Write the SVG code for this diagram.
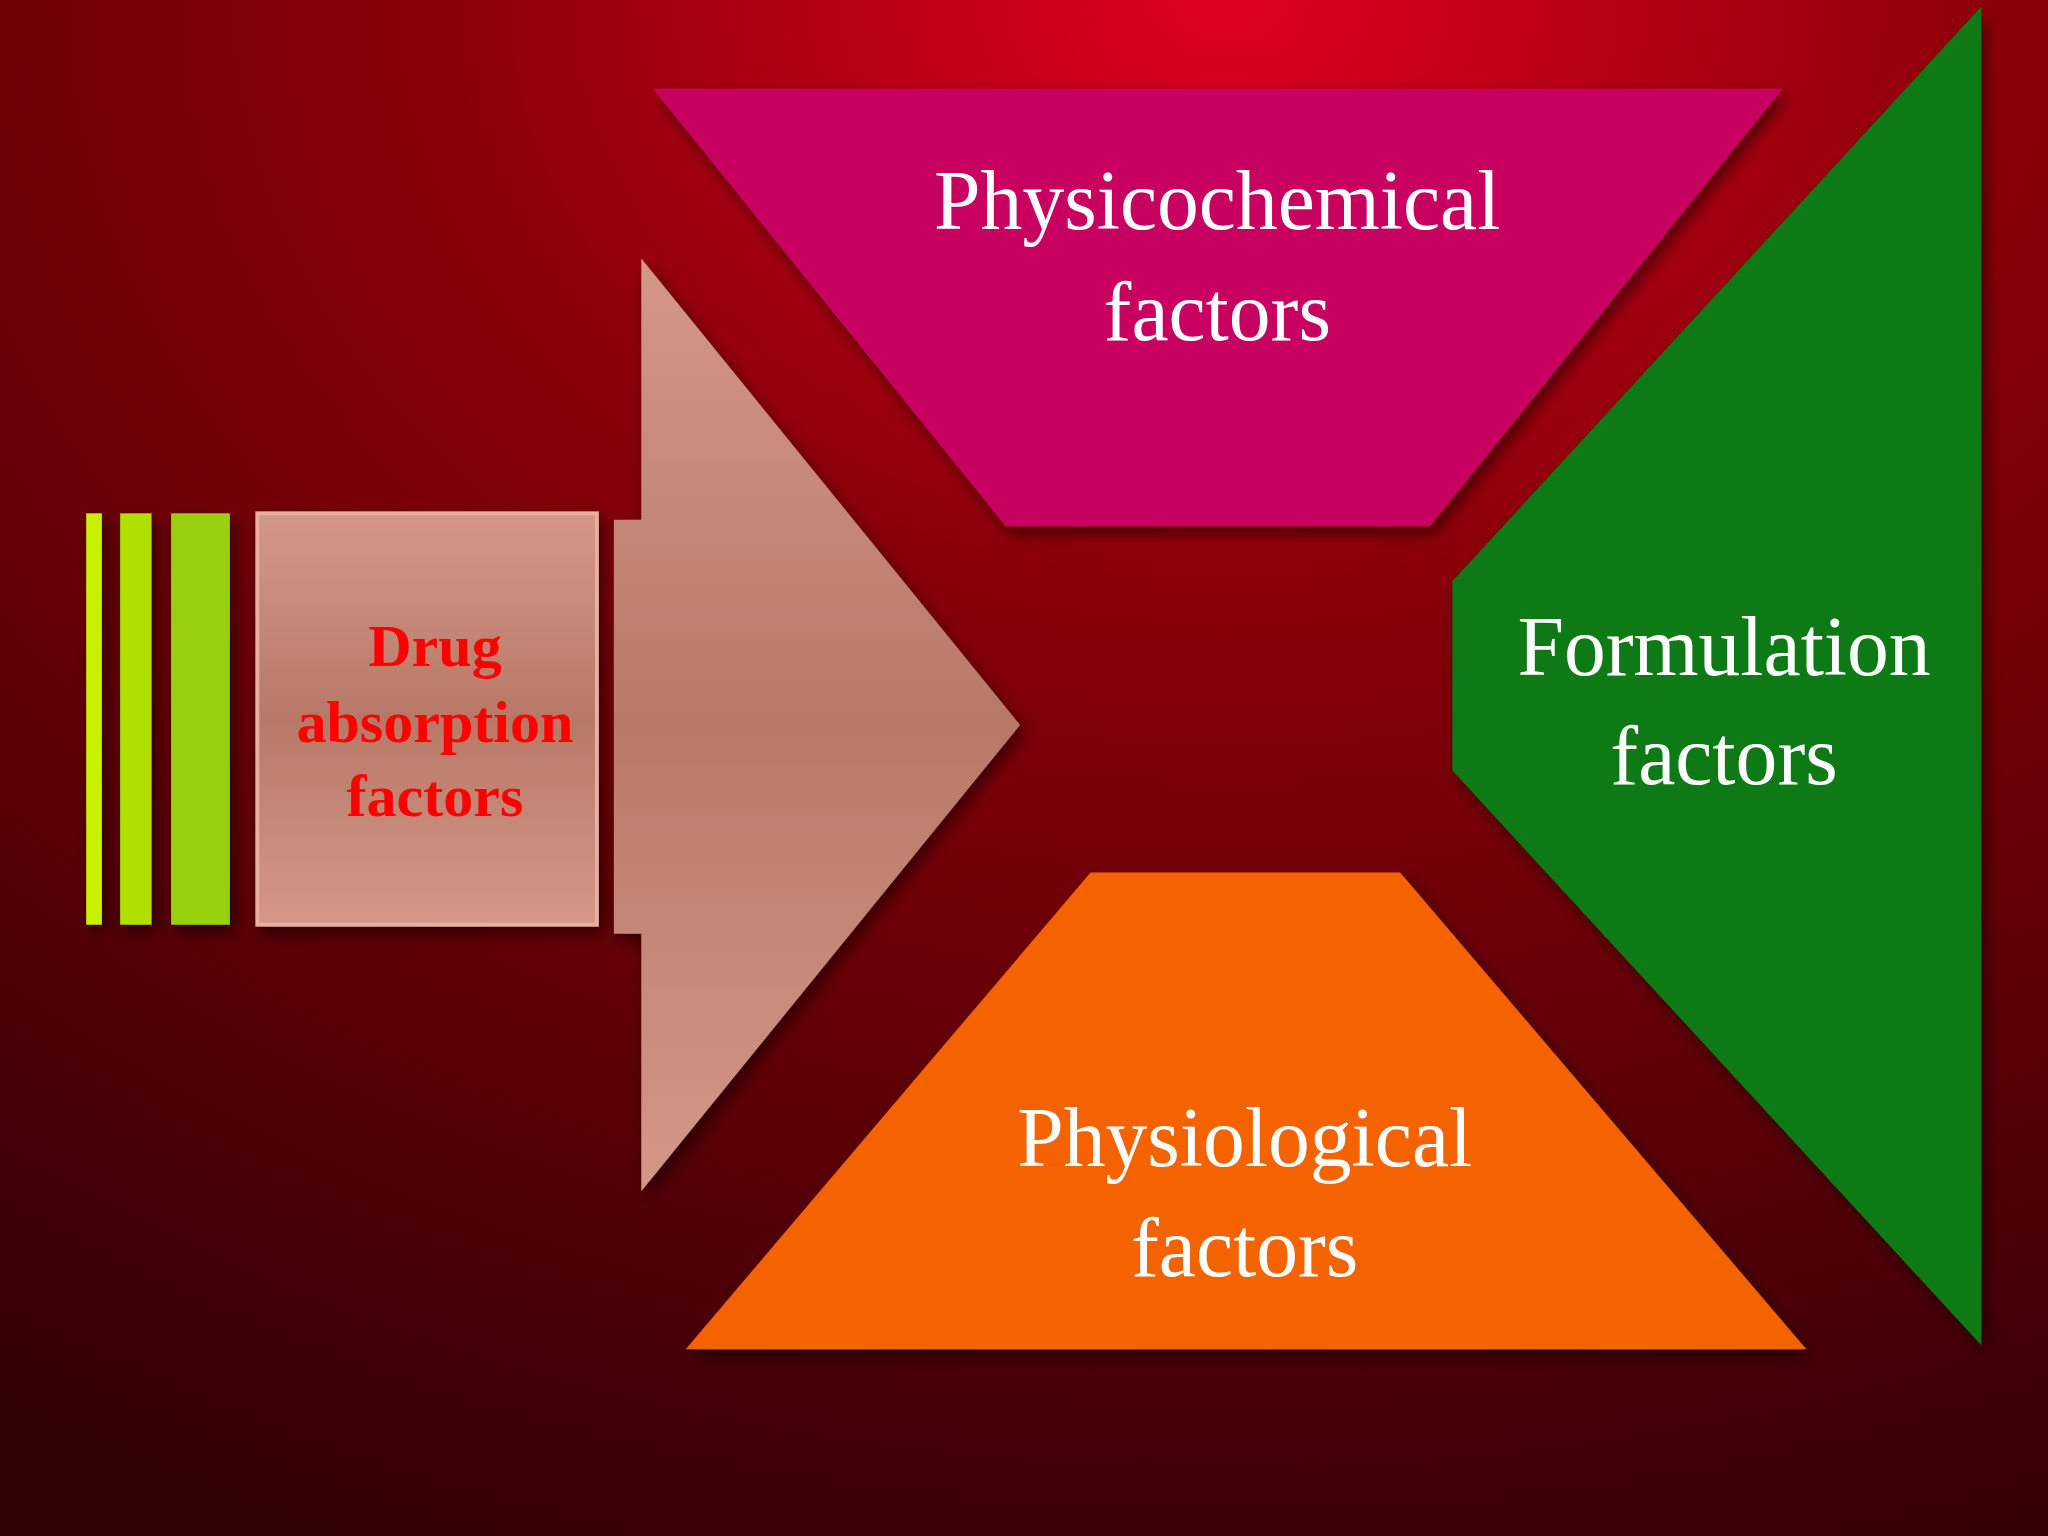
<svg xmlns="http://www.w3.org/2000/svg" width="2048" height="1536" viewBox="0 0 2048 1536">
<defs>
<radialGradient id="bg" cx="0.6" cy="0" r="1.1">
<stop offset="0" stop-color="#e0001f"/>
<stop offset="0.35" stop-color="#8a0008"/>
<stop offset="1" stop-color="#300005"/>
</radialGradient>
<linearGradient id="sal" x1="0" y1="0" x2="0" y2="1">
<stop offset="0" stop-color="#d49888"/><stop offset="0.5" stop-color="#b87868"/><stop offset="1" stop-color="#d49888"/>
</linearGradient>
<filter id="sh" x="-10%" y="-10%" width="120%" height="120%"><feDropShadow dx="4" dy="6" stdDeviation="6" flood-color="#000" flood-opacity="0.5"/></filter>
</defs>
<style>
.w{font-family:"Liberation Serif","DejaVu Serif",serif;fill:#fff;font-size:64px;text-anchor:middle}
.r{font-family:"Liberation Serif","DejaVu Serif",serif;fill:#f00;font-size:46px;font-weight:bold;text-anchor:middle}
</style>
<rect width="2048" height="1536" fill="url(#bg)"/>
<g transform="scale(1.3061)">
<g id="bars" filter="url(#sh)">
<rect x="66" y="393" width="12" height="315" fill="#c8f000"/>
<rect x="92" y="393" width="24" height="315" fill="#b0e000"/>
<rect x="131" y="393" width="45" height="315" fill="#98d010"/>
</g>
<g id="drug">
<rect x="197" y="393" width="260" height="315" fill="url(#sal)" stroke="#e8b0a0" stroke-width="3" filter="url(#sh)"/>
<text class="r" x="333" y="510">Drug</text>
<text class="r" x="333" y="568">absorption</text>
<text class="r" x="333" y="625">factors</text>
</g>
<g id="arrow">
<polygon points="491,198 781,555 491,912 491,715 470,715 470,398 491,398" fill="url(#sal)" filter="url(#sh)"/>
</g>
<g id="physico">
<polygon points="500,68 1365,68 1095,403 770,403" fill="#c8005e" filter="url(#sh)"/>
<text class="w" x="932" y="175">Physicochemical</text>
<text class="w" x="932" y="260">factors</text>
</g>
<g id="formulation">
<polygon points="1517,5 1517,1030 1112,590 1112,445" fill="#0a7a12" filter="url(#sh)"/>
<text class="w" x="1320" y="517">Formulation</text>
<text class="w" x="1320" y="600">factors</text>
</g>
<g id="physio">
<polygon points="835,668 1072,668 1383,1033 525,1033" fill="#f46400" filter="url(#sh)"/>
<text class="w" x="953" y="893">Physiological</text>
<text class="w" x="953" y="977">factors</text>
</g>
<g id="connectors"/>
</g>
</svg>
